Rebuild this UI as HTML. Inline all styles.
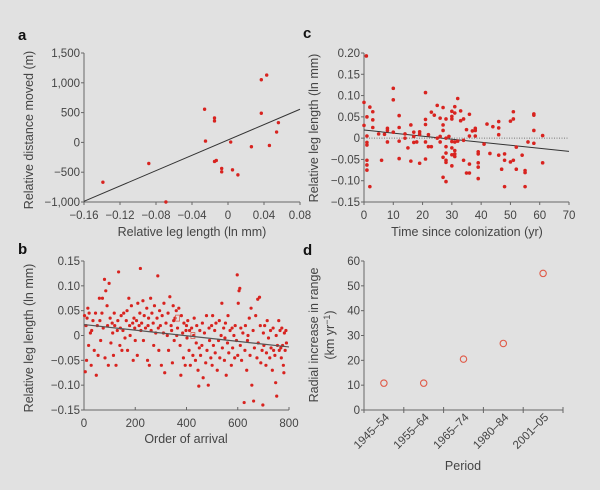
<!DOCTYPE html>
<html><head><meta charset="utf-8">
<style>
html,body{margin:0;padding:0;background:#e1e1e1;}
svg{display:block;font-family:"Liberation Sans",sans-serif;}
.tk{font-size:11.5px;fill:#444;}
.ttl{font-size:12.5px;fill:#444;}
.pl{font-size:15px;font-weight:bold;fill:#111;}
</style></head><body>
<svg id="fig" width="600" height="490" viewBox="0 0 600 490">
<rect width="600" height="490" fill="#e1e1e1"/>
</svg>
<script>
// Panel a data
const aLeg=[-0.139,-0.088,-0.069,-0.026,-0.025,-0.015,-0.015,-0.015,-0.013,-0.007,-0.007,0.003,0.005,0.011,0.026,0.037,0.037,0.043,0.046,0.054,0.056];
const aDist=[-668,-354,-1000,556,22,410,360,-320,-303,-438,-494,6,-461,-545,-73,1051,489,1129,-51,174,331];
const aFit=[[-0.16,-989],[0.08,556]];
const aXTicks=[-0.16,-0.12,-0.08,-0.04,0,0.04,0.08];
const aXLabels=["−0.16","−0.12","−0.08","−0.04","0","0.04","0.08"];
const aYTicks=[-1000,-500,0,500,1000,1500];
const aYLabels=["−1,000","−500","0","500","1,000","1,500"];
// Panel c data
const cTime=[0.8,0,0,1,1,1,1,1,1,1,2,2,3,3,3,5,6,7,8,8,8,10,10,10,12,12,12,12,14,14,15,16,16,17,17,17,18,19,19,19,21,21,21,21,21,22,22,23,23,24,25,25,26,26,26,27,27,27,27,27,28,28,28,28,28,28,28,29,30,30,30,30,30,30,30,31,31,31,31,31,31,32,32,33,33,34,34,34,35,35,36,36,36,36,37,38,38,38,39,39,39,39,39,41,42,43,44,46,46,46,46,47,48,48,48,50,50,51,51,51,52,52,54,55,55,55,56,58,58,58,58,61,61];
const cLeg=[0.193,0.084,0.030,0.05,0.005,-0.01,-0.016,-0.052,-0.063,-0.075,-0.114,0.073,0.062,0.043,0.025,0.010,-0.052,0.009,0.023,0.018,-0.009,0.117,0.09,0.014,0.053,0.025,-0.007,-0.048,0.01,0,-0.023,0.031,-0.054,0.014,0.004,-0.01,-0.009,0.015,0.009,-0.059,0.107,0.044,0.032,-0.049,-0.009,0.008,-0.02,-0.02,0.061,0.054,0.077,0,0.047,0.004,-0.009,0.072,0.031,0.018,-0.045,-0.092,0.045,0,-0.02,-0.035,-0.052,-0.057,-0.102,0.004,0.063,0.051,0.045,-0.008,-0.023,-0.039,-0.065,0.074,0.059,-0.009,-0.029,-0.037,-0.043,0.093,-0.007,0.064,0.041,0.045,-0.005,-0.052,0.02,-0.082,0.056,0.005,-0.061,-0.082,0.017,0.023,0.018,0.005,-0.032,-0.037,-0.058,-0.068,-0.095,-0.014,0.033,-0.036,0.027,0.039,0.024,0.008,-0.04,-0.073,-0.037,-0.052,-0.114,0.04,-0.056,0.062,0.045,-0.052,-0.021,-0.073,-0.04,-0.076,-0.081,-0.114,-0.009,0.057,0.054,0.018,-0.012,0.006,-0.058];
const cFit=[[0,0.019],[70,-0.031]];
const cXTicks=[0,10,20,30,40,50,60,70];
const cYTicks=[-0.15,-0.10,-0.05,0,0.05,0.10,0.15,0.20];
const cYLabels=["−0.15","−0.10","−0.05","0","0.05","0.10","0.15","0.20"];
// Panel b data
const bOrder=[2,5,8,10,12,15,18,20,25,28,30,35,40,45,48,52,55,60,62,65,70,72,75,80,82,85,90,92,95,98,102,105,110,112,115,118,120,125,130,132,135,140,142,145,148,152,155,160,165,168,170,175,178,180,185,190,192,195,198,200,205,208,210,215,218,220,222,225,230,232,235,240,245,248,250,252,255,260,262,265,270,272,275,280,285,288,290,292,295,298,302,305,310,312,315,320,325,328,330,335,340,342,345,348,350,352,355,360,362,365,370,375,378,380,385,388,390,395,398,400,402,405,410,412,415,420,425,428,430,435,438,440,445,448,450,452,455,460,462,465,470,475,478,480,485,488,490,495,498,500,502,505,510,512,515,520,525,528,530,535,538,540,545,548,550,552,555,560,562,565,570,575,578,580,585,588,590,595,598,600,602,605,608,610,612,615,620,625,628,630,635,638,640,645,648,652,655,660,662,665,670,675,678,680,685,688,690,695,698,700,702,705,710,712,715,720,725,728,730,735,738,740,745,748,750,752,755,760,762,765,768,770,772,775,778,780,782,785,788,790];
const bLength=[0.04,-0.073,0.02,-0.05,0.035,0.055,-0.02,0.045,0.005,-0.06,0.01,0.03,-0.03,0.045,-0.08,0.02,-0.04,0.075,0.03,-0.01,0.045,0.075,0.015,0.113,-0.045,0.09,0.06,0.02,-0.06,0.105,0.035,-0.015,0.025,0.005,-0.04,0.045,0.02,-0.06,0.01,0.03,0.128,-0.02,0.015,0.04,-0.03,0.01,0.045,-0.005,0.03,0.05,-0.03,0.075,0.02,0.0,0.06,0.025,-0.05,0.035,0.015,-0.01,0.03,-0.04,0.065,0.02,0.045,0.135,0.01,0.025,0.07,-0.01,0.04,0.015,0.055,-0.05,0.02,0.035,-0.06,0.075,0.01,0.045,0.025,-0.02,0.06,0.005,0.035,0.12,0.015,-0.03,0.05,0.02,-0.06,0.04,0.005,0.065,-0.075,0.025,0.0,0.045,-0.03,0.078,0.02,0.01,-0.055,0.06,0.03,-0.01,0.035,0.05,0.0,0.015,0.055,-0.02,-0.08,0.04,0.005,-0.045,0.025,-0.06,0.01,0.02,-0.005,0.03,-0.03,0.01,-0.06,0.015,-0.04,0.0,0.035,-0.05,-0.015,0.02,-0.07,-0.102,-0.025,0.01,-0.04,-0.02,0.025,-0.085,0.005,-0.055,0.04,-0.03,-0.1,0.015,-0.01,-0.045,0.02,-0.06,0.04,-0.02,0.01,-0.035,0.025,-0.07,-0.01,0.03,-0.045,0.0,0.065,-0.025,0.015,-0.05,-0.005,0.025,-0.08,-0.015,0.04,-0.035,0.01,-0.06,0.015,-0.025,0.0,-0.045,0.02,-0.01,0.122,-0.04,0.065,0.09,0.095,-0.02,0.015,-0.05,0.005,-0.135,-0.03,0.02,-0.07,-0.01,0.0,0.035,-0.04,0.055,-0.1,0.01,-0.132,-0.025,0.04,-0.045,0.073,-0.015,0.077,0.02,-0.055,-0.03,-0.14,0.005,-0.02,0.02,-0.06,-0.035,0.03,-0.005,-0.045,0.01,-0.025,-0.07,0.015,-0.03,-0.04,-0.095,0.0,-0.122,-0.02,0.03,-0.03,0.01,-0.025,-0.045,0.015,-0.02,-0.06,-0.075,0.005,-0.03,0.01,-0.015];
const bFit=[[0,0.022],[800,-0.023]];
const bHollowOrder=[365,425];
const bHollowLength=[0.035,0.0];
const bXTicks=[0,200,400,600,800];
const bYTicks=[-0.15,-0.10,-0.05,0,0.05,0.10,0.15];
const bYLabels=["−0.15","−0.10","−0.05","0","0.05","0.10","0.15"];
// Panel d data
const dPeriods=["1945–54","1955–64","1965–74","1980–84","2001–05"];
const dRate=[10.8,10.8,20.5,26.8,55];
const dYTicks=[0,10,20,30,40,50,60];

const NS="http://www.w3.org/2000/svg";
const svg=document.getElementById('fig');
function mk(tag,attrs,parent,text){const e=document.createElementNS(NS,tag);for(const k in attrs)e.setAttribute(k,attrs[k]);if(text!==undefined)e.textContent=text;(parent||svg).appendChild(e);return e;}
function lin(d0,d1,r0,r1){return v=>r0+(v-d0)/(d1-d0)*(r1-r0);}
const AX="#666";
function panel(name){const g=mk('g',{});return g;}

// ---------- Panel a ----------
(function(){
const g=panel('panel-a');
const x=lin(-0.16,0.08,84,300), y=lin(-1000,1500,202,53);
let t=mk('text',{x:18,y:40,class:'pl'},g,'a');
let l=mk('line',{x1:84,y1:53,x2:84,y2:202,stroke:AX,'stroke-width':1},g);
l=mk('line',{x1:84,y1:202,x2:300,y2:202,stroke:AX,'stroke-width':1},g);
aYTicks.forEach((v,i)=>{mk('line',{x1:81,x2:84,y1:y(v),y2:y(v),stroke:AX},g);
 const e=mk('text',{x:80,y:y(v)+4,class:'tk','text-anchor':'end'},g,aYLabels[i]);});
aXTicks.forEach((v,i)=>{mk('line',{x1:x(v),x2:x(v),y1:202,y2:205,stroke:AX},g);
 const e=mk('text',{x:x(v),y:219,class:'tk','text-anchor':'middle'},g,aXLabels[i]);});
l=mk('line',{x1:x(aFit[0][0]),y1:y(aFit[0][1]),x2:x(aFit[1][0]),y2:y(aFit[1][1]),stroke:'#333','stroke-width':1},g);
aLeg.forEach((v,i)=>{const c=mk('circle',{cx:x(v),cy:y(aDist[i]),r:1.7,fill:'#d8231f'},g);});
t=mk('text',{x:192,y:236,class:'ttl','text-anchor':'middle'},g,'Relative leg length (ln mm)');
t=mk('text',{x:0,y:0,class:'ttl','text-anchor':'middle',transform:'translate(33,130) rotate(-90)'},g,'Relative distance moved (m)');
})();

// ---------- Panel c ----------
(function(){
const g=panel('panel-c');
const x=lin(0,70,364,569), y=lin(-0.15,0.20,202,53);
let t=mk('text',{x:303,y:38,class:'pl'},g,'c');
let l=mk('line',{x1:364,y1:53,x2:364,y2:202,stroke:AX},g);
l=mk('line',{x1:364,y1:202,x2:569,y2:202,stroke:AX},g);
cYTicks.forEach((v,i)=>{mk('line',{x1:361,x2:364,y1:y(v),y2:y(v),stroke:AX},g);
 const e=mk('text',{x:360,y:y(v)+4,class:'tk','text-anchor':'end'},g,cYLabels[i]);});
cXTicks.forEach(v=>{mk('line',{x1:x(v),x2:x(v),y1:202,y2:205,stroke:AX},g);
 const e=mk('text',{x:x(v),y:219,class:'tk','text-anchor':'middle'},g,String(v));});
l=mk('line',{x1:x(0),y1:y(0),x2:x(70),y2:y(0),stroke:'#777','stroke-dasharray':'1,1.5'},g);
l=mk('line',{x1:x(cFit[0][0]),y1:y(cFit[0][1]),x2:x(cFit[1][0]),y2:y(cFit[1][1]),stroke:'#333'},g);
cTime.forEach((v,i)=>{const c=mk('circle',{cx:x(v),cy:y(cLeg[i]),r:1.8,fill:'#d8231f'},g);});
t=mk('text',{x:467,y:236,class:'ttl','text-anchor':'middle'},g,'Time since colonization (yr)');
t=mk('text',{x:0,y:0,class:'ttl','text-anchor':'middle',transform:'translate(318,128) rotate(-90)'},g,'Relative leg length (ln mm)');
})();

// ---------- Panel b ----------
(function(){
const g=panel('panel-b');
const x=lin(0,800,84,289), y=lin(-0.15,0.15,410,261);
let t=mk('text',{x:18,y:254,class:'pl'},g,'b');
let l=mk('line',{x1:84,y1:261,x2:84,y2:410,stroke:AX},g);
l=mk('line',{x1:84,y1:410,x2:289,y2:410,stroke:AX},g);
bYTicks.forEach((v,i)=>{mk('line',{x1:81,x2:84,y1:y(v),y2:y(v),stroke:AX},g);
 const e=mk('text',{x:80,y:y(v)+4,class:'tk','text-anchor':'end'},g,bYLabels[i]);});
bXTicks.forEach(v=>{mk('line',{x1:x(v),x2:x(v),y1:407,y2:410,stroke:AX},g);
 const e=mk('text',{x:x(v),y:427,class:'tk','text-anchor':'middle'},g,String(v));});
bOrder.forEach((v,i)=>{const c=mk('circle',{cx:x(v),cy:y(bLength[i]),r:1.6,fill:'#d8231f'},g);});
bHollowOrder.forEach((v,i)=>{const r=mk('rect',{x:x(v)-2,y:y(bHollowLength[i])-3,width:4,height:6,fill:'none',stroke:'#d86050','stroke-width':0.8},g);});
l=mk('line',{x1:x(bFit[0][0]),y1:y(bFit[0][1]),x2:x(bFit[1][0]),y2:y(bFit[1][1]),stroke:'#555','stroke-width':1.2},g);
t=mk('text',{x:186,y:443,class:'ttl','text-anchor':'middle'},g,'Order of arrival');
t=mk('text',{x:0,y:0,class:'ttl','text-anchor':'middle',transform:'translate(33,338) rotate(-90)'},g,'Relative leg length (ln mm)');
})();

// ---------- Panel d ----------
(function(){
const g=panel('panel-d');
const n=dPeriods.length, x0=364, x1=563, bw=(x1-x0)/n;
const x=i=>x0+bw*(i+0.5), y=lin(0,60,410,261);
let t=mk('text',{x:303,y:255,class:'pl'},g,'d');
let l=mk('line',{x1:364,y1:261,x2:364,y2:410,stroke:AX},g);
l=mk('line',{x1:364,y1:410,x2:563,y2:410,stroke:AX},g);
dYTicks.forEach(v=>{mk('line',{x1:361,x2:364,y1:y(v),y2:y(v),stroke:AX},g);
 const e=mk('text',{x:360,y:y(v)+4,class:'tk','text-anchor':'end'},g,String(v));});
for(let i=0;i<=n;i++)mk('line',{x1:x0+bw*i,x2:x0+bw*i,y1:407,y2:413,stroke:AX},g);
dPeriods.forEach((p,i)=>{const e=mk('text',{x:0,y:0,class:'tk','text-anchor':'end',transform:`translate(${x(i)+6},${418}) rotate(-45)`},g,p);});
dRate.forEach((v,i)=>{const c=mk('circle',{cx:x(i),cy:y(v),r:3.2,fill:'none',stroke:'#e05a48','stroke-width':1.1},g);});
t=mk('text',{x:463,y:470,class:'ttl','text-anchor':'middle'},g,'Period');
t=mk('text',{x:0,y:0,class:'ttl','text-anchor':'middle',transform:'translate(318,335) rotate(-90)'},g,'Radial increase in range');
t=mk('text',{x:0,y:0,class:'ttl','text-anchor':'middle',transform:'translate(334,335) rotate(-90)'},g);
t.textContent='(km yr';const ts=mk('tspan',{dy:-4,'font-size':'9px'},t,'−1');mk('tspan',{dy:4},t,')');
})();
</script>
</body></html>
